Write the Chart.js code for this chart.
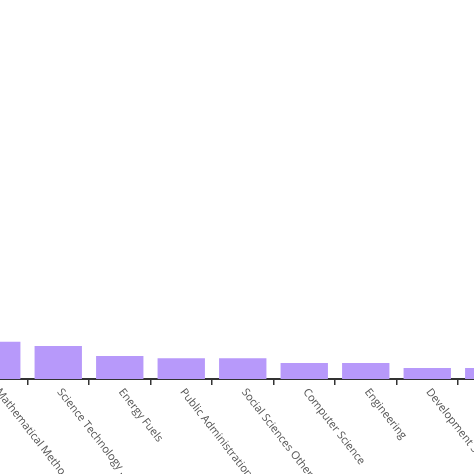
<!DOCTYPE html>
<html><head><meta charset="utf-8">
<script src="https://cdn.jsdelivr.net/npm/chart.js@4/dist/chart.umd.min.js"></script>
<style>html,body{margin:0;padding:0;overflow:hidden;background:#fff;width:474px;height:474px}
#wrap{position:absolute;left:-34.25px;top:0;width:553.5px;height:474px}</style>
</head><body><div id="wrap"><canvas id="c"></canvas></div>
<script>
const categories = ["Mathematical Metho…","Science Technology …","Energy Fuels","Public Administration","Social Sciences Other…","Computer Science","Engineering","Development Studies","Other"];
const values = [9.8, 8.7, 6.1, 5.5, 5.5, 4.2, 4.2, 2.9, 2.9];
const labelPlugin = {
  id:'rotLabels',
  afterDraw(chart){
    const ctx = chart.ctx, xs = chart.scales.x;
    ctx.save();
    ctx.font = '11px "Open Sans", sans-serif';
    ctx.fillStyle = '#555';
    ctx.textAlign = 'left'; ctx.textBaseline = 'middle';
    categories.forEach((c,i)=>{
      const x = xs.getPixelForValue(i);
      ctx.save();
      ctx.translate(x+1, 390);
      ctx.rotate(52*Math.PI/180);
      ctx.fillText(c, 0, 0);
      ctx.restore();
    });
    ctx.restore();
  }
};
new Chart(document.getElementById('c'), {
  type:'bar',
  data:{labels:categories, datasets:[{data:values, backgroundColor:'#b799fa', categoryPercentage:1, barPercentage:0.77}]},
  options:{
    responsive:true, maintainAspectRatio:false, animation:false,
    layout:{padding:{top:0,left:0,right:0,bottom:89}},
    plugins:{legend:{display:false}, tooltip:{enabled:false}},
    scales:{
      x:{ticks:{display:false}, grid:{display:true, drawOnChartArea:false, tickLength:6, color:'#333', lineWidth:1.5}, border:{color:'#333', width:2}},
      y:{display:false, min:0, max:100}
    }
  },
  plugins:[labelPlugin]
});
</script></body></html>
